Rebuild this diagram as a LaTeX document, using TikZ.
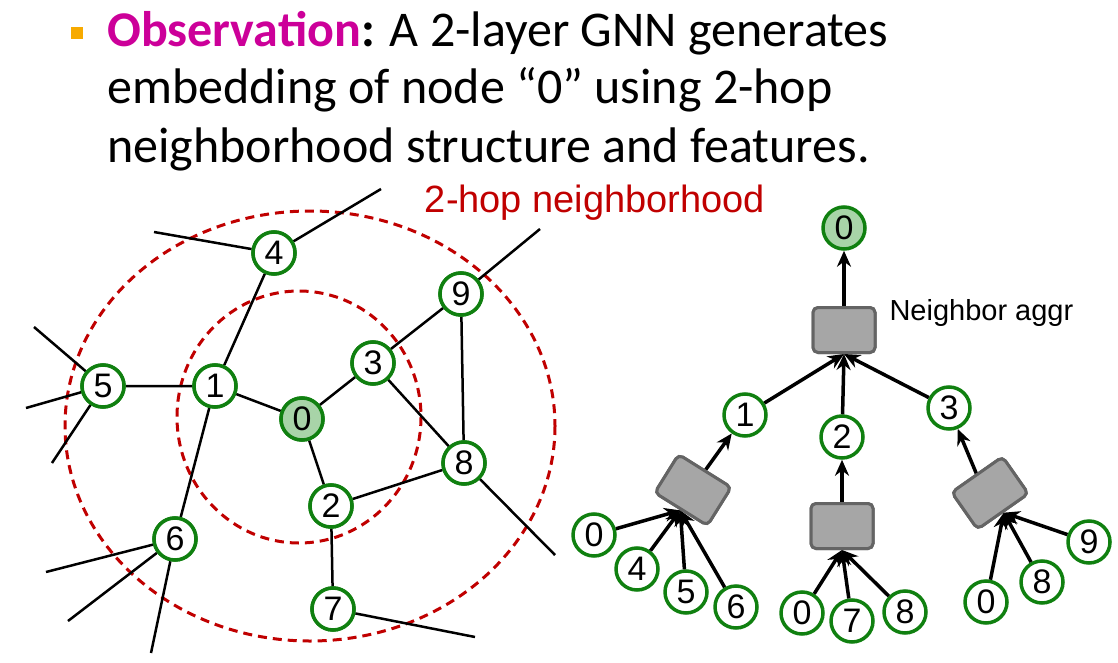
\documentclass[tikz,border=0pt]{standalone}
\usepackage{fontspec}
\setmainfont{Liberation Sans}
\newfontfamily\titlefont{Carlito}
\usetikzlibrary{arrows.meta}
\definecolor{ngreen}{RGB}{16,128,16}
\definecolor{nfill}{RGB}{168,212,168}
\definecolor{hopred}{RGB}{192,0,0}
\definecolor{magent}{RGB}{204,0,153}
\definecolor{bullet}{RGB}{247,170,0}
\definecolor{boxfill}{RGB}{166,166,166}
\definecolor{boxdraw}{RGB}{100,100,100}
\begin{document}
\begin{tikzpicture}[x=1pt,y=-1pt,
  gn/.style={circle,draw=ngreen,line width=3.5pt,fill=white,inner sep=0pt,minimum size=42pt,font=\fontsize{34}{34}\selectfont},
  gz/.style={gn,fill=nfill},
  edge/.style={line width=2.5pt},
  agg/.style={rectangle,rounded corners=5pt,draw=boxdraw,fill=boxfill,line width=3pt,minimum width=62pt,minimum height=45pt},
  arr/.style={line width=3.5pt,-{Stealth[length=16pt,width=14pt]}},
  hop/.style={draw=hopred,line width=3pt,dash pattern=on 9pt off 6pt}]
\useasboundingbox (0,0) rectangle (1118,663);
% title
\fill[bullet] (71,27) rectangle (83,39);
\node[anchor=base west,inner sep=0,font=\titlefont\fontsize{50}{50}\selectfont] (t1) at (107,47) {\textcolor{magent}{\bfseries Observation}\textbf{:} A 2-layer GNN generates};
\node[anchor=base west,inner sep=0,font=\titlefont\fontsize{50}{50}\selectfont] (t2) at (107,104) {embedding of node “0” using 2-hop};
\node[anchor=base west,inner sep=0,font=\titlefont\fontsize{50}{50}\selectfont] (t3) at (107,163) {neighborhood structure and features.};
% hop circles
\draw[hop] (299,417) ellipse (122 and 126);
\draw[hop] (310,426) ellipse (245 and 215);
\node[text=hopred,font=\fontsize{38}{38}\selectfont] (hl) at (595,203) {2-hop neighborhood};
% left graph
\coordinate (d4a) at (154,232); \coordinate (d4b) at (381,189);
\coordinate (d9) at (540,229);
\coordinate (d5a) at (34,327); \coordinate (d5b) at (26,408); \coordinate (d5c) at (52,463);
\coordinate (d6a) at (46,572); \coordinate (d6b) at (68,621); \coordinate (d6c) at (151,653);
\coordinate (d8) at (555,555); \coordinate (d7) at (475,637);
\node[gn] (n4) at (274,253) {4};
\node[gn] (n9) at (461,294) {9};
\node[gn] (n3) at (373,363) {3};
\node[gn] (n5) at (103,386) {5};
\node[gn] (n1) at (215,386) {1};
\node[gz] (n0) at (302,419) {0};
\node[gn] (n8) at (464,463) {8};
\node[gn] (n2) at (331,506) {2};
\node[gn] (n6) at (175,539) {6};
\node[gn] (n7) at (333,609) {7};
\draw[edge] (n4)--(d4a) (n4)--(d4b) (n9)--(d9) (n5)--(d5a) (n5)--(d5b) (n5)--(d5c)
 (n6)--(d6a) (n6)--(d6b) (n6)--(d6c) (n8)--(d8) (n7)--(d7)
 (n4)--(n1) (n1)--(n5) (n1)--(n0) (n1)--(n6) (n0)--(n3) (n0)--(n2) (n3)--(n9)
 (n3)--(n8) (n9)--(n8) (n2)--(n8) (n2)--(n7);
\foreach \n/\l in {n4/4,n9/9,n3/3,n5/5,n1/1,n8/8,n2/2,n6/6,n7/7}{\node[gn] at (\n) {\l};}
\node[gz] at (n0) {0};
% right tree
\node[gz] (r0) at (844,228) {0};
\node[agg] (ra) at (844,330) {};
\node[anchor=west,font=\fontsize{29}{29}\selectfont] (lab) at (886,313) {Neighbor aggr};
\node[gn] (r1) at (745,415) {1};
\node[gn] (r2) at (842,437) {2};
\node[gn] (r3) at (949,408) {3};
\node[agg,rotate=-32] (ba) at (693,490) {};
\node[agg] (bb) at (842,526) {};
\node[agg,rotate=35] (bc) at (990,493) {};
\node[gn] (l0) at (594,535) {0};
\node[gn] (l4) at (637,569) {4};
\node[gn] (l5) at (686,592) {5};
\node[gn] (l6) at (736,607) {6};
\node[gn] (m0) at (802,613) {0};
\node[gn] (m7) at (852,621) {7};
\node[gn] (m8) at (905,612) {8};
\node[gn] (q0) at (986,602) {0};
\node[gn] (q8) at (1042,582) {8};
\node[gn] (q9) at (1089,542) {9};
\draw[arr] (ra)--(r0);
\draw[arr] (r1)--(ra.south); \draw[arr] (r2)--(ra.south); \draw[arr] (r3)--(ra.south);
\draw[arr] (ba.north)--(r1); \draw[arr] (bb)--(r2); \draw[arr] (bc.north)--(r3);
\foreach \s in {l0,l4,l5,l6}{\draw[arr] (\s)--(ba.south);}
\foreach \s in {m0,m7,m8}{\draw[arr] (\s)--(bb.south);}
\foreach \s in {q0,q8,q9}{\draw[arr] (\s)--(bc.south);}
\node[agg] at (ra) {};
\node[agg,rotate=-32] at (ba) {};
\node[agg] at (bb) {};
\node[agg,rotate=35] at (bc) {};
\end{tikzpicture}
\end{document}
